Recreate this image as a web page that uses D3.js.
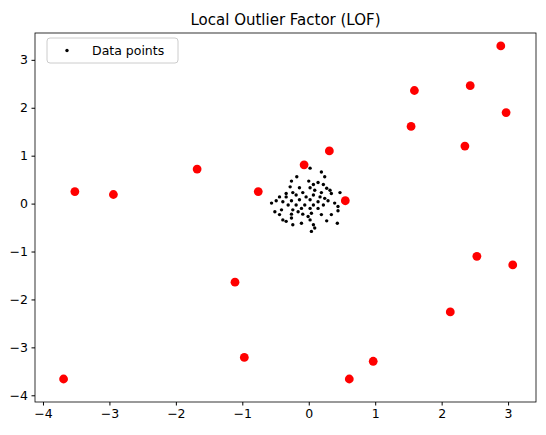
<!DOCTYPE html><html><head><meta charset="utf-8"><script src="https://cdn.jsdelivr.net/npm/d3@7"></script>
<style>body{margin:0;background:#fff}text{font-family:"DejaVu Sans",sans-serif}</style></head><body><svg id="c" width="546" height="435"></svg><script>
const inX=[0.02,-0.18,0.19,0.24,-0.26,0.00,0.14,0.22,0.07,-0.28,-0.14,0.02,0.27,0.32,0.47,-0.34,-0.24,-0.09,0.09,0.19,0.34,-0.44,-0.34,-0.19,-0.04,0.07,0.17,0.24,0.29,-0.49,-0.56,-0.39,-0.26,-0.14,0.02,0.14,0.39,-0.31,-0.19,-0.06,0.07,0.22,0.44,-0.51,-0.41,-0.24,-0.11,0.02,0.14,0.44,-0.26,-0.09,0.04,0.19,0.34,-0.44,-0.34,-0.24,-0.11,0.02,0.07,0.27,0.43,0.09,0.04,-0.26,-0.01,-0.16,-0.39];
const inY=[0.74,0.56,0.66,0.56,0.47,0.47,0.44,0.40,0.40,0.35,0.33,0.33,0.32,0.28,0.23,0.21,0.23,0.23,0.28,0.23,0.21,0.14,0.14,0.18,0.14,0.18,0.14,0.11,0.06,0.06,0.01,0.04,0.06,0.08,0.08,0.04,0.01,-0.03,-0.03,-0.03,-0.03,-0.03,-0.06,-0.17,-0.13,-0.13,-0.10,-0.10,-0.10,-0.15,-0.22,-0.22,-0.20,-0.23,-0.23,-0.23,-0.37,-0.44,-0.41,-0.34,-0.44,-0.36,-0.41,-0.51,-0.58,-0.30,-0.27,-0.17,-0.34];
const outX=[2.89,1.59,2.43,1.54,2.97,2.35,0.31,-0.07,0.55,-0.76,-1.68,-3.52,-2.94,-1.11,2.53,3.07,2.13,-0.97,0.97,0.61,-3.69];
const outY=[3.29,2.36,2.46,1.61,1.90,1.20,1.10,0.81,0.06,0.25,0.72,0.25,0.19,-1.64,-1.10,-1.28,-2.26,-3.21,-3.29,-3.66,-3.66];
const xTicks=[-4,-3,-2,-1,0,1,2,3], yTicks=[-4,-3,-2,-1,0,1,2,3];
const svg=d3.select("#c");
const L=35,R=536,T=33,B=402;
const x=d3.scaleLinear().domain([-4.12,3.42]).range([L,R]);
const y=d3.scaleLinear().domain([-4.14,3.56]).range([B,T]);
svg.append("g").attr("transform",`translate(0,${B})`).call(d3.axisBottom(x).tickValues(xTicks).tickSize(3.5).tickPadding(3.5)).call(g=>g.select(".domain").remove());
svg.append("g").attr("transform",`translate(${L},0)`).call(d3.axisLeft(y).tickValues(yTicks).tickSize(3.5).tickPadding(3.5)).call(g=>g.select(".domain").remove());
svg.selectAll(".tick text").attr("font-size",12.5).attr("fill","#000").style("font-family","DejaVu Sans");
svg.append("rect").attr("x",L).attr("y",T).attr("width",R-L).attr("height",B-T).attr("fill","none").attr("stroke","#000").attr("stroke-width",0.8);
svg.append("g").selectAll("circle").data(outX).join("circle").attr("cx",d=>x(d)).attr("cy",(d,i)=>y(outY[i])).attr("r",4.4).attr("fill","#ff0000");
svg.append("g").selectAll("circle").data(inX).join("circle").attr("cx",d=>x(d)).attr("cy",(d,i)=>y(inY[i])).attr("r",1.7).attr("fill","#000");
svg.append("text").attr("x",(L+R)/2).attr("y",T-8).attr("text-anchor","middle").attr("font-size",15).text("Local Outlier Factor (LOF)");
const lg=svg.append("g");
lg.append("rect").attr("x",47).attr("y",38).attr("width",131).attr("height",25).attr("rx",3).attr("fill","#fff").attr("stroke","#ccc");
lg.append("circle").attr("cx",67).attr("cy",50.5).attr("r",1.7).attr("fill","#000");
lg.append("text").attr("x",92).attr("y",55).attr("font-size",12.5).text("Data points");
</script></body></html>
